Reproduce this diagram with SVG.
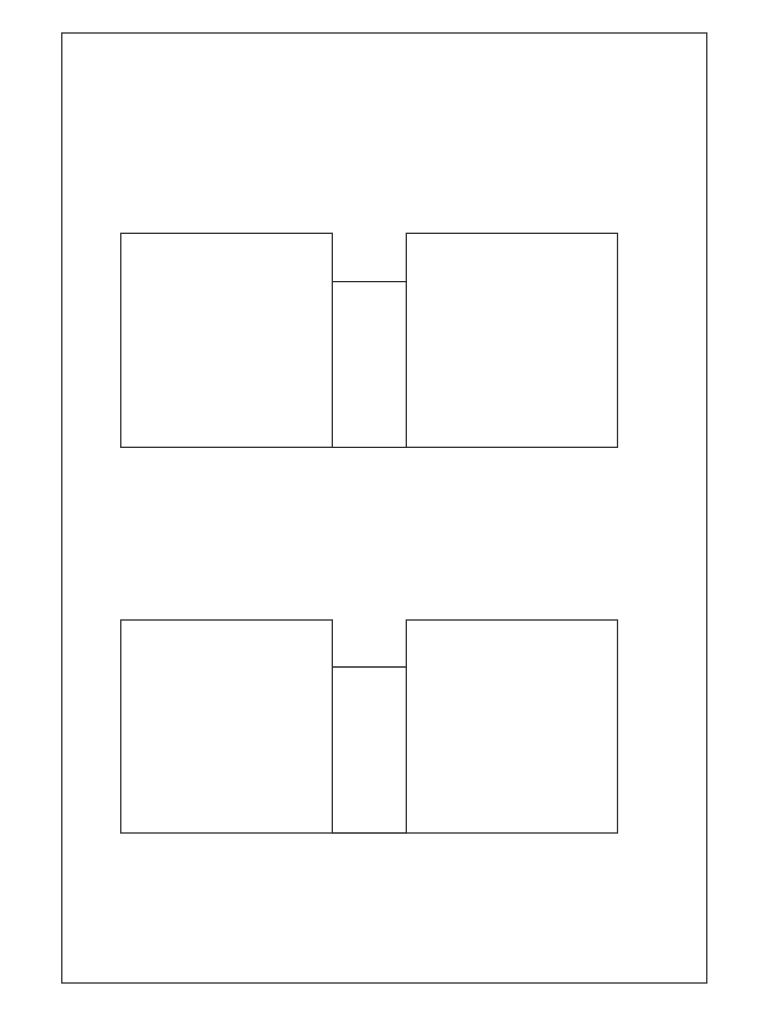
<svg xmlns="http://www.w3.org/2000/svg" width="768" height="1024" viewBox="0 0 768 1024">
<style>
.ln{fill:none;stroke:#2a2a2a;stroke-width:1.3}
</style>
<rect width="768" height="1024" fill="#fff"/>
<rect id="frame" class="ln" x="61.8" y="33" width="645" height="950"/>
<g id="top-left"><rect class="ln" x="120.8" y="233.3" width="211.5" height="214"/></g>
<g id="top-right"><rect class="ln" x="406.3" y="233.3" width="211.2" height="214"/></g>
<g id="bottom-left"><rect class="ln" x="120.8" y="620" width="211.5" height="213"/></g>
<g id="bottom-right"><rect class="ln" x="406.3" y="620" width="211.2" height="213"/></g>
<g id="connectors">
<line class="ln" x1="332.3" y1="281.7" x2="406.3" y2="281.7"/>
<line class="ln" x1="332.3" y1="447.3" x2="406.3" y2="447.3"/>
<line class="ln" x1="332.3" y1="667" x2="406.3" y2="667"/>
<line class="ln" x1="332.3" y1="833" x2="406.3" y2="833"/>
</g>
</svg>
